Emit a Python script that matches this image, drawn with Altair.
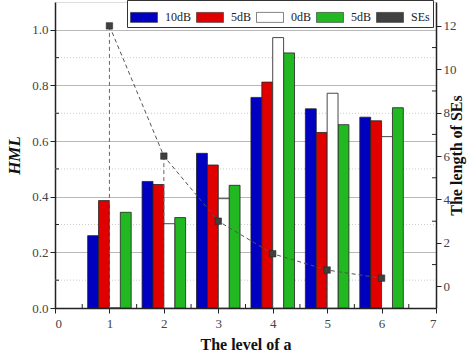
import altair as alt
import pandas as pd

# ---------------- data ----------------
levels = [1, 2, 3, 4, 5, 6]
series_names = ["10dB", "5dB", "0dB", "-5dB"]
hml_10db = [0.260, 0.455, 0.556, 0.757, 0.716, 0.686]
hml_5db = [0.386, 0.444, 0.514, 0.812, 0.631, 0.673]
hml_0db = [0.000, 0.303, 0.393, 0.972, 0.772, 0.616]
hml_m5db = [0.344, 0.325, 0.441, 0.917, 0.659, 0.720]
ses_length = [12, 6, 3, 1.5, 0.75, 0.375]

left_major = [0.0, 0.2, 0.4, 0.6, 0.8, 1.0]
left_minor = [0.1, 0.3, 0.5, 0.7, 0.9]
right_major = [0, 2, 4, 6, 8, 10, 12]
right_minor = [1, 3, 5, 7, 9, 11]
x_major = [0, 1, 2, 3, 4, 5, 6, 7]
x_minor = [0.5, 1.5, 2.5, 3.5, 4.5, 5.5, 6.5]

legend_domain = ["10dB", "5dB", "0dB", "-5dB", "SEs"]
legend_colors = ["#0000c0", "#e00000", "#ffffff", "#22b822", "#404040"]

# ---------------- tables ----------------
rows = []
for name, vals in zip(series_names, [hml_10db, hml_5db, hml_0db, hml_m5db]):
    for lv, v in zip(levels, vals):
        rows.append({"level": lv, "series": name, "idx": series_names.index(name), "value": v})
bars = pd.DataFrame(rows)
ses = pd.DataFrame({"level": levels, "se": ses_length, "series": ["SEs"] * len(levels)})

W, H = 381, 306
FONT = "Liberation Serif"
LDOM = [0, 1.1]
RDOM = [-1, 13.1]

xs = alt.Scale(domain=[0, 7], nice=False, zero=False)
ls = alt.Scale(domain=LDOM, nice=False, zero=False)
rs = alt.Scale(domain=RDOM, nice=False, zero=False)

fill_scale = alt.Scale(domain=legend_domain, range=legend_colors)
rect_path = "M-1,-0.37H1V0.37H-1Z"
legend = alt.Legend(
    title=None, orient="none", legendX=72, legendY=-2, direction="horizontal",
    symbolType=rect_path, symbolSize=729, symbolStrokeColor="#333", symbolStrokeWidth=0.6,
    labelFont=FONT, labelFontSize=12, labelColor="#222", labelOffset=7, columnPadding=3,
    strokeColor="#333", fillColor="#ffffff", padding=3,
    labelExpr="datum.label == '-5dB' ? '5dB' : datum.label",
)

x_axis = alt.Axis(values=x_major, format="d", title="The level of  a", titleFont=FONT,
                  titleFontSize=16, titleFontWeight="bold", titleColor="#111", titlePadding=6,
                  labelFont=FONT, labelFontSize=13, labelColor="#444", tickSize=5,
                  tickColor="#222", domainColor="#222", domainWidth=1.5, grid=False, labelPadding=4)

left_axis = alt.Axis(values=left_major, format=".1f", title="HML", orient="left",
                     titleFont=FONT, titleFontSize=17, titleFontWeight="bold", titleFontStyle="italic",
                     titleColor="#111", titlePadding=8, labelFont=FONT, labelFontSize=13,
                     labelColor="#444", tickSize=5, tickColor="#222", domainColor="#222",
                     domainWidth=1.5, grid=True, gridColor="#b8b8b8", gridWidth=1)

right_axis = alt.Axis(values=right_major, format="d", title="The length of SEs", orient="right",
                      titleFont=FONT, titleFontSize=16, titleFontWeight="bold", titleColor="#111",
                      titleAngle=270, titlePadding=8, labelFont=FONT, labelFontSize=13,
                      labelColor="#444", tickSize=5, tickColor="#222", domainColor="#222",
                      domainWidth=1.5, grid=False)

# minor dotted grid
minor_grid = alt.Chart(pd.DataFrame({"v": left_minor})).mark_rule(
    color="#cccccc", strokeDash=[1, 2], strokeWidth=1
).encode(y=alt.Y("v:Q", scale=ls, axis=None), x=alt.value(0), x2=alt.value(W))

# colored bars
colored = alt.Chart(bars).transform_filter(
    "datum.series != '0dB'"
).transform_calculate(
    x0="datum.level - 0.4 + 0.2 * datum.idx", x1="datum.level - 0.2 + 0.2 * datum.idx"
).mark_bar(stroke="#222", strokeWidth=0.8).encode(
    x=alt.X("x0:Q", scale=xs, axis=x_axis),
    x2="x1:Q",
    y=alt.Y("value:Q", scale=ls, axis=left_axis),
    y2=alt.datum(0),
    fill=alt.Fill("series:N", scale=fill_scale, legend=legend),
)

# SE drop lines (dashed)
drops = alt.Chart(ses).mark_rule(color="#666", strokeDash=[4, 3], strokeWidth=1).encode(
    x=alt.X("level:Q", scale=xs),
    y=alt.Y("se:Q", scale=rs, axis=None),
    y2=alt.datum(-1),
)

# white 0dB bars
white = alt.Chart(bars).transform_filter(
    "datum.series == '0dB'"
).transform_calculate(
    x0="datum.level - 0.4 + 0.2 * datum.idx", x1="datum.level - 0.2 + 0.2 * datum.idx"
).mark_bar(stroke="#333", strokeWidth=0.9).encode(
    x=alt.X("x0:Q", scale=xs),
    x2="x1:Q",
    y=alt.Y("value:Q", scale=ls, axis=None),
    y2=alt.datum(0),
    fill=alt.Fill("series:N", scale=fill_scale, legend=legend),
)

# SE line and points
se_line = alt.Chart(ses).mark_line(color="#555", strokeDash=[4, 3], strokeWidth=1).encode(
    x=alt.X("level:Q", scale=xs),
    y=alt.Y("se:Q", scale=rs, axis=right_axis),
)
se_pts = alt.Chart(ses).mark_square(size=42, opacity=1, stroke="#222", strokeWidth=0.5).encode(
    x=alt.X("level:Q", scale=xs),
    y=alt.Y("se:Q", scale=rs, axis=None),
    fill=alt.Fill("series:N", scale=fill_scale, legend=legend),
)

# minor ticks (inward)
lminor = alt.Chart(pd.DataFrame({"v": left_minor})).mark_rule(color="#222", strokeWidth=1).encode(
    y=alt.Y("v:Q", scale=ls, axis=None), x=alt.value(0), x2=alt.value(4))
rminor = alt.Chart(pd.DataFrame({"v": right_minor})).mark_rule(color="#222", strokeWidth=1).encode(
    y=alt.Y("v:Q", scale=rs, axis=None), x=alt.value(W - 4), x2=alt.value(W))
xminor = alt.Chart(pd.DataFrame({"v": x_minor})).mark_rule(color="#222", strokeWidth=1).encode(
    x=alt.X("v:Q", scale=xs), y=alt.value(H - 4), y2=alt.value(H))

chart = alt.layer(
    minor_grid, colored, drops, white, se_line, se_pts, lminor, rminor, xminor
).resolve_scale(y="independent").properties(
    width=W, height=H,
    autosize=alt.AutoSizeParams(type="none"),
    padding={"left": 55, "top": 2, "right": 38, "bottom": 45},
).configure_view(stroke=None).configure(background="#ffffff")

chart.save("out.html", embed_options={"renderer": "svg", "actions": False})
